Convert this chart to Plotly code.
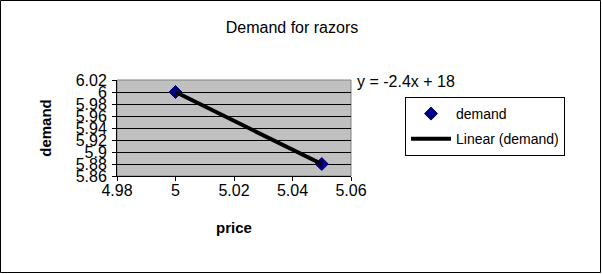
import numpy as np
import plotly.graph_objects as go

price = [5.0, 5.05]
demand = [6.0, 5.88]
x_ticks = [4.98, 5.0, 5.02, 5.04, 5.06]
x_tick_labels = ["4.98", "5", "5.02", "5.04", "5.06"]
y_ticks = [5.86, 5.88, 5.9, 5.92, 5.94, 5.96, 5.98, 6.0, 6.02]
y_tick_labels = ["5.86", "5.88", "5.9", "5.92", "5.94", "5.96", "5.98", "6", "6.02"]

slope, intercept = np.polyfit(price, demand, 1)
fit_x = np.array(price)
fit_y = slope * fit_x + intercept
eq_text = f"y = {slope:.1f}x + {intercept:.0f}"

W, H = 602, 274
L, R, T, B = 117, 351, 80, 176
pw, ph = R - L, B - T

def px(v):
    return (v - L) / pw

def py(v):
    return (B - v) / ph

FONT = "Liberation Sans, Arial, sans-serif"

fig = go.Figure()
fig.add_trace(go.Scatter(
    x=price, y=demand, mode="markers", name="demand", legendgroup="a",
    marker=dict(symbol="diamond", size=10, color="#000080",
                line=dict(color="#000080", width=1)),
))
fig.add_trace(go.Scatter(
    x=fit_x, y=fit_y, mode="lines", name="Linear (demand)", legendgroup="b",
    line=dict(color="black", width=4),
))

fig.update_layout(
    width=W, height=H,
    margin=dict(l=L, r=W - R, t=T, b=H - B, pad=0),
    paper_bgcolor="white",
    plot_bgcolor="#c0c0c0",
    font=dict(family=FONT, size=15, color="black"),
    showlegend=True,
    legend=dict(
        x=px(405), y=py(97), xanchor="left", yanchor="top",
        bordercolor="black", borderwidth=1, bgcolor="white",
        font=dict(size=14), itemwidth=40, tracegroupgap=4,
    ),
    xaxis=dict(
        range=[4.98, 5.06], tickvals=x_ticks, ticktext=x_tick_labels,
        showgrid=False, zeroline=False, showline=True, linecolor="black",
        linewidth=1, ticks="outside", ticklen=4, tickcolor="black",
        ticklabelstandoff=-4, tickfont=dict(size=16),
        title=dict(text="<b>price</b>", standoff=24, font=dict(size=15)),
    ),
    yaxis=dict(
        range=[5.86, 6.02], tickvals=y_ticks, ticktext=y_tick_labels,
        showgrid=True, gridcolor="black", gridwidth=1,
        zeroline=False, showline=True, linecolor="black",
        linewidth=1, ticks="outside", ticklen=4, tickcolor="black",
        ticklabelstandoff=2, tickfont=dict(size=16),
        title=dict(text="<b>demand</b>", standoff=20, font=dict(size=15)),
    ),
    title=dict(text="Demand for razors", x=292 / W, xanchor="center",
               y=1 - 27 / H, yanchor="middle", font=dict(size=16)),
)

fig.add_shape(type="rect", xref="paper", yref="paper",
              x0=0, x1=1, y0=0, y1=1,
              line=dict(color="#808080", width=1), layer="below")
fig.add_shape(type="rect", xref="paper", yref="paper",
              x0=px(0.5), x1=px(600.5), y0=py(0.5), y1=py(272.5),
              line=dict(color="black", width=1))

fig.add_annotation(text=eq_text, xref="paper", yref="paper",
                   x=px(355), y=py(81), xanchor="left", yanchor="middle",
                   showarrow=False, font=dict(size=16))

fig.write_html("out.html")
